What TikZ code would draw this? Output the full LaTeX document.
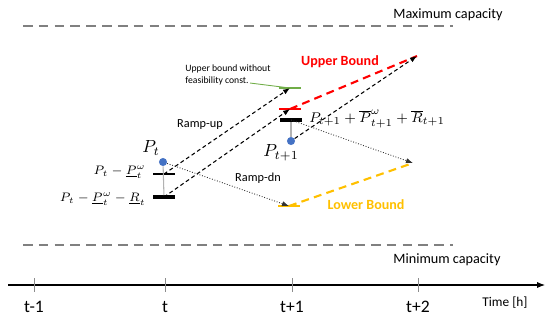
\documentclass[tikz,border=0pt]{standalone}
\usepackage{amsmath}
\usepackage{amssymb}
\usepackage{fontspec}
\setmainfont{Carlito}
\usepackage{tikz}
\usetikzlibrary{arrows.meta}
\usepackage{xcolor}
\definecolor{capgray}{RGB}{128,128,128}
\definecolor{boundred}{RGB}{255,0,0}
\definecolor{boundgold}{RGB}{255,192,0}
\definecolor{nofgreen}{RGB}{112,173,71}
\definecolor{dotblue}{RGB}{68,114,196}

\begin{document}
\begin{tikzpicture}[
    x=0.02cm, y=-0.02cm,
    caplimit/.style={capgray, line width=1.1pt, dash pattern=on 5.5pt off 3.5pt},
    ramp/.style={black, line width=0.6pt, dash pattern=on 2.2pt off 1.6pt,
        -{Latex[length=4pt,width=3pt]}},
    rampdn/.style={black!80, line width=0.5pt, densely dotted,
        -{Latex[length=4pt,width=3pt]}},
    bound/.style={line width=1.2pt, dash pattern=on 4.5pt off 3pt},
    pdot/.style={circle, fill=dotblue, inner sep=0pt, minimum size=4.6pt},
    thinbar/.style={rectangle, fill=#1, inner sep=0pt, minimum width=0.44cm,
        minimum height=0.6pt},
    thickbar/.style={rectangle, fill=black, inner sep=0pt, minimum width=0.44cm,
        minimum height=1.8pt},
    stem/.style={black!30, line width=0.6pt},
    lbl/.style={font=\fontsize{7}{8}\selectfont, inner sep=1pt},
    caplbl/.style={font=\fontsize{8.1}{9}\selectfont, anchor=west, inner sep=0pt},
    formula/.style={font=\fontsize{8.5}{10}\selectfont, inner sep=0pt},
    boundlbl/.style={font=\fontsize{8}{9}\selectfont\bfseries, inner sep=0pt}
]
    \useasboundingbox (0,0) rectangle (550,322);

    % capacity limits
    \coordinate (maxl) at (23,26);
    \coordinate (maxr) at (453,26);
    \coordinate (minl) at (23,245);
    \coordinate (minr) at (453,245);
    \draw[caplimit] (maxl) -- (maxr);
    \draw[caplimit] (minl) -- (minr);
    \node[caplbl] (maxcap) at (393,15) {Maximum capacity};
    \node[caplbl] (mincap) at (393,260) {Minimum capacity};

    % time axis
    \coordinate (axl) at (8,285);
    \coordinate (axr) at (545,285);
    \draw[line width=0.6pt, -{Latex[length=4.5pt,width=3.5pt]}] (axl) -- (axr);
    \foreach \x/\t in {34/t-1, 165/t, 292/t+1, 418/t+2} {
        \draw[black!45, line width=0.5pt] (\x,278) -- (\x,292);
        \node[font=\fontsize{10}{11}\selectfont] at (\x,307) {\t};
    }
    \node[font=\fontsize{7.6}{9}\selectfont, anchor=west, inner sep=0pt] (time) at (482,303) {Time [h]};

    % bars at t
    \node[thinbar=black] (lobar) at (164,174) {};
    \node[thickbar] (lolobar) at (164,197) {};
    % bars at t+1
    \node[thinbar=nofgreen] (nofbar) at (290,88) {};
    \node[thinbar=boundred] (ubbar) at (290,109) {};
    \node[thickbar] (hibar) at (291,120) {};
    \node[thinbar=boundgold] (lbbar) at (289,206) {};

    \coordinate (ubtip) at (417,56);
    \coordinate (lbtip) at (413,163);

    \node[pdot] (Pt) at (163,162) {};
    \node[pdot] (Pt1) at (291,141) {};
    \draw[stem] (Pt) -- (lolobar);
    \draw[stem] (Pt1) -- (hibar);

    \node[formula, font=\fontsize{10}{11}\selectfont] (Ptlbl) at (151,148) {$P_t$};
    \node[formula, font=\fontsize{10}{11}\selectfont] (Pt1lbl) at (281,153) {$P_{t+1}$};
    \node[formula, font=\fontsize{7}{8}\selectfont, anchor=east] (lolbl) at (146,172)
        {$P_t-\underline{P}_t^{\omega}$};
    \node[formula, font=\fontsize{7}{8}\selectfont, anchor=east] (lololbl) at (146,199)
        {$P_t-\underline{P}_t^{\omega}-\underline{R}_t$};
    \node[formula, anchor=west] (hilbl) at (309,119)
        {$P_{t+1}+\overline{P}_{t+1}^{\omega}+\overline{R}_{t+1}$};

    % bounds
    \draw[bound, boundred] (ubbar.center) -- (ubtip);
    \draw[bound, boundgold] (lbbar.center) -- (lbtip);
    \node[boundlbl, text=boundred] (ublbl) at (340,62) {Upper Bound};
    \node[boundlbl, text=boundgold] (lblbl) at (366,205) {Lower Bound};

    % ramps
    \draw[ramp] (lobar.center) -- (nofbar.center);
    \draw[ramp] (lolobar.center) -- (ubbar.center);
    \draw[ramp] (Pt1) -- (ubtip);
    \draw[rampdn] (Pt) -- (lbbar.center);
    \draw[rampdn] (hibar.center) -- (lbtip);
    \node[lbl] (rampup) at (200,125) {Ramp-up};
    \node[lbl] (rampdn) at (258,178) {Ramp-dn};

    % note on the green bar
    \node[font=\fontsize{5.5}{6.5}\selectfont, align=left, inner sep=0pt] (nof) at (228,75)
        {Upper bound without\\feasibility const.};
    \coordinate (nofend) at (250,83);
    \draw[nofgreen, line width=0.5pt] (nofend) -- (nofbar.center);
\end{tikzpicture}
\end{document}
